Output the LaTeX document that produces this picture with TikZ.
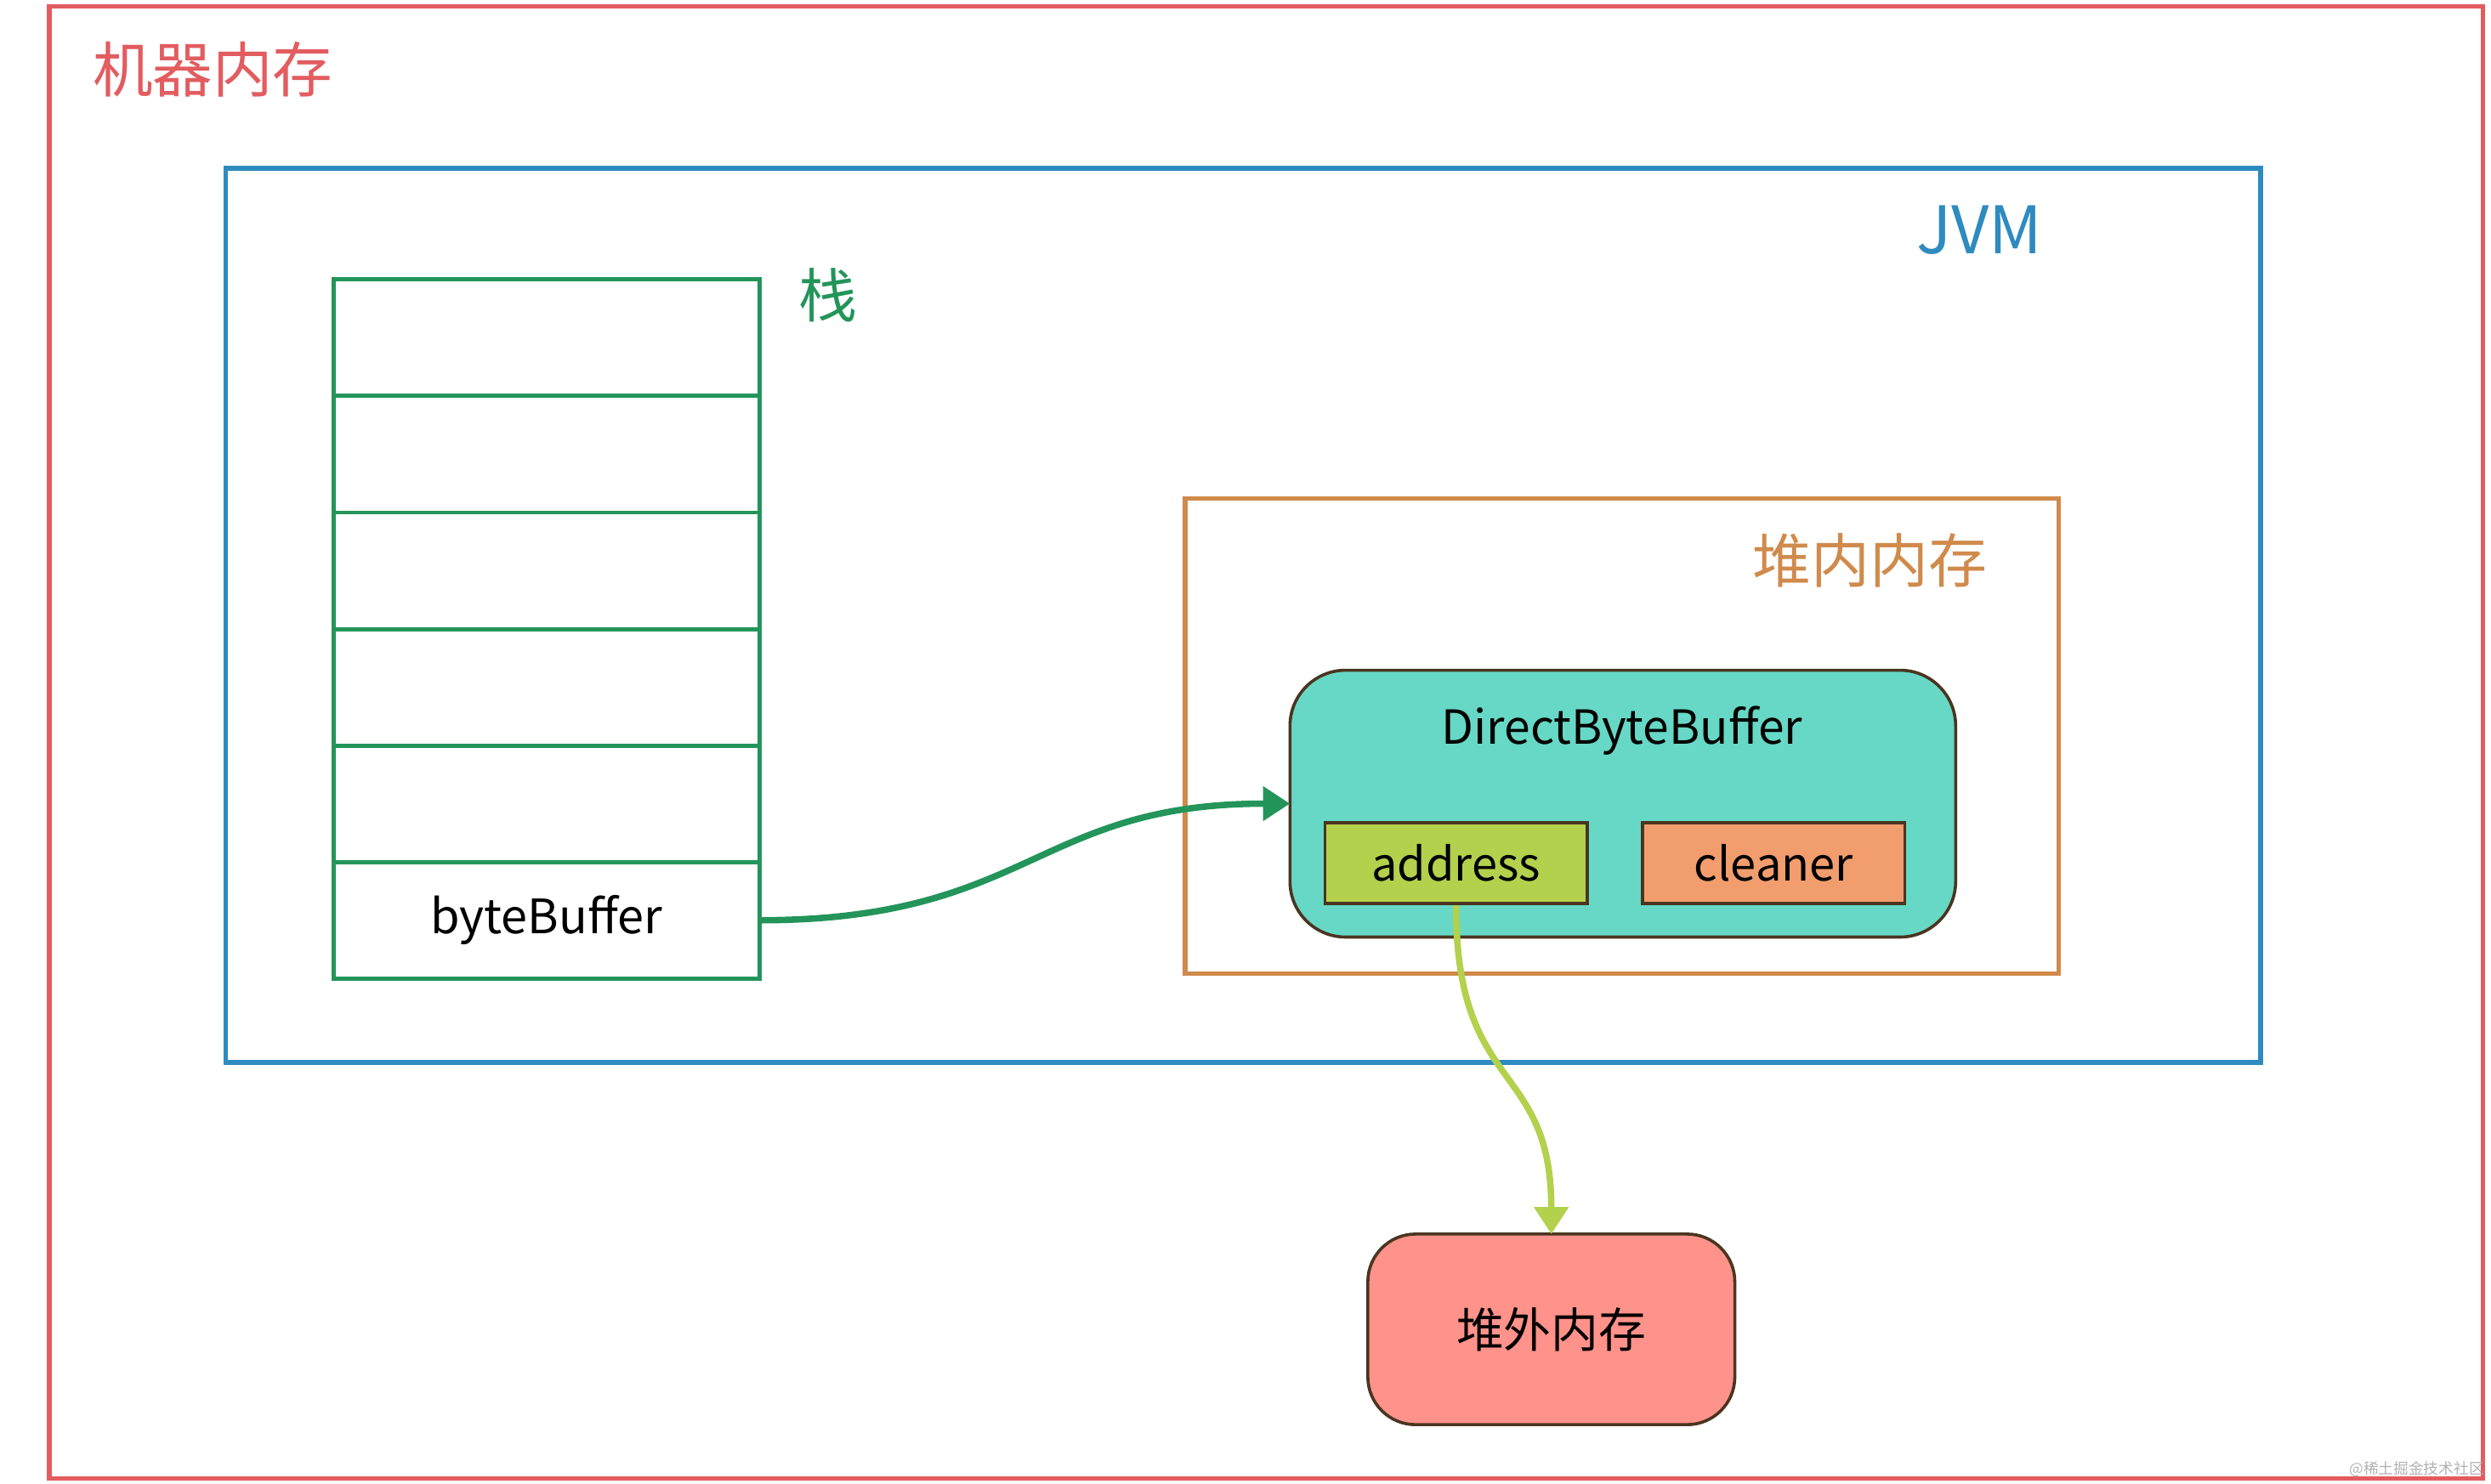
\documentclass[tikz,border=0pt]{standalone}
\usepackage{fontspec}
\setmainfont{Noto Sans CJK SC}
\usetikzlibrary{positioning,arrows.meta}
\definecolor{machinered}{HTML}{E25C60}
\definecolor{jvmblue}{HTML}{2E8BC0}
\definecolor{stackgreen}{HTML}{23955A}
\definecolor{heaporange}{HTML}{D08A4B}
\definecolor{objteal}{HTML}{66D8C5}
\definecolor{edgebrown}{HTML}{4A3520}
\definecolor{addrlime}{HTML}{B3D14C}
\definecolor{cleanpeach}{HTML}{F29D6E}
\definecolor{offpink}{HTML}{FF928A}

\begin{document}
\begin{tikzpicture}[x=0.2mm, y=-0.2mm,
    frame/.style = {draw, line width=1.6pt, outer sep=0pt, inner sep=0pt},
    slot/.style = {draw = stackgreen, line width=1.5pt, outer sep=0pt, minimum width=53.6mm, minimum height=14.67mm, font=\fontsize{17}{19}\selectfont},
    field/.style = {draw = edgebrown, line width=1.1pt, minimum width=33mm, minimum height=10.2mm, font=\fontsize{16.5}{18}\selectfont},
    flow/.style = {line width=2.3pt, -{Triangle[length=3.4mm, width=4.2mm]}}]
      \useasboundingbox (0,0) rectangle (1568,934);

      \node[frame, draw = machinered, minimum width=306.4mm, minimum height=185.4mm] (machine) at (797,467.5) {};
      \node[text = machinered, font=\fontsize{21.5}{24}\selectfont] (machinelabel) at (134,44) {机器内存};

      \node[frame, draw = jvmblue, minimum width=256.2mm, minimum height=112.6mm] (jvm) at (782.5,387.5) {};
      \node[text = jvmblue, font=\fontsize{23.5}{26}\selectfont] (jvmlabel) at (1246,145) {JVM};

      \node[slot] (s1) at (344,212.67) {};
      \foreach \i [remember=\i as \j (initially 1)] in {2,...,5} \node[slot, below=0pt of s\j] (s\i) {};
      \node[slot, below=0pt of s5] (s6) {byteBuffer};
      \node[text = stackgreen, font=\fontsize{21}{24}\selectfont] (stacklabel) at (521,186) {栈};

      \node[frame, draw = heaporange, minimum width=110mm, minimum height=59.8mm] (heap) at (1021,463.5) {};
      \node[text = heaporange, font=\fontsize{21}{24}\selectfont] (heaplabel) at (1177,353) {堆内内存};

      \node[frame, draw = edgebrown, line width=1.1pt, fill = objteal, rounded corners=7mm, minimum width=83.8mm, minimum height=33.6mm] (dbb) at (1021.5,506) {};
      \node[font=\fontsize{16.8}{18}\selectfont] (dbblabel) at (1021,460) {DirectByteBuffer};
      \node[field, fill = addrlime] (address) at (916.5,543.5) {address};
      \node[field, fill = cleanpeach] (cleaner) at (1116.5,543.5) {cleaner};

      \node[frame, draw = edgebrown, line width=1.1pt, fill = offpink, rounded corners=6mm, minimum width=46.2mm, minimum height=24mm, font=\fontsize{17}{20}\selectfont] (offheap) at (976.5,837) {堆外内存};

      \draw[flow, stackgreen] (s6.east) .. controls +(170,0) and +(-160,0) .. (dbb.west);
      \draw[flow, addrlime] (address.south) .. controls +(0,120) and +(0,-110) .. (offheap.north);

      \node[text = black!30, font=\fontsize{5.4}{6}\selectfont, anchor=south east, inner sep=0pt] (mark) at (1564,930) {@稀土掘金技术社区};
    \end{tikzpicture}
\end{document}
